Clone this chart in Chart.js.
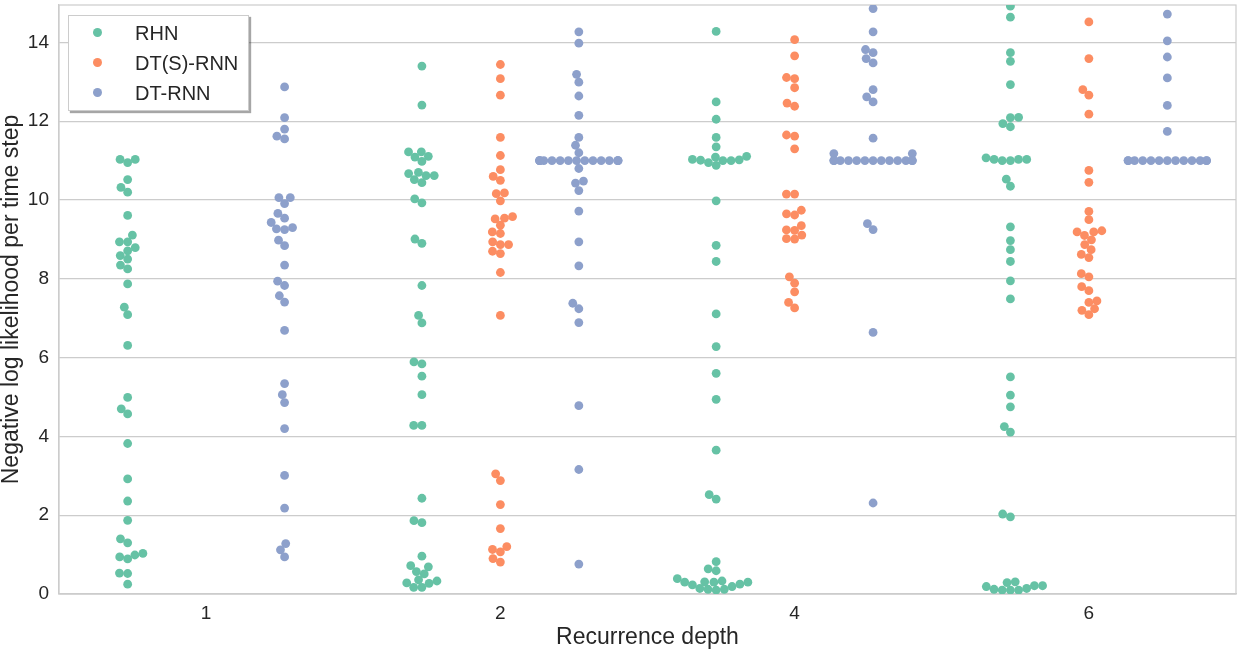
<!DOCTYPE html>
<html>
<head>
<meta charset="utf-8">
<script src="https://cdn.jsdelivr.net/npm/chart.js@4.4.1/dist/chart.umd.min.js"></script>
<style>
  html, body { margin: 0; padding: 0; background: #ffffff; }
  #wrap { position: relative; width: 1242px; height: 650px; }
  #legend {
    position: absolute; left: 68px; top: 15px; width: 181px; height: 96px;
    background: #ffffff; border: 1px solid #cccccc;
    box-shadow: 2px 2px 1px rgba(0,0,0,0.35);
    font-family: 'Liberation Sans', Arial, sans-serif; font-size: 20px; color: #262626;
    box-sizing: border-box;
  }
  .lg-row { position: absolute; left: 0; height: 24px; }
  .lg-dot { position: absolute; left: 24px; width: 9px; height: 9px; border-radius: 50%; }
  .lg-txt { position: absolute; left: 66px; white-space: nowrap; line-height: 24px; }
</style>
</head>
<body>
<div id="wrap">
  <canvas id="c" width="1242" height="650"></canvas>
  <div id="legend"></div>
</div>
<script>
// ---------------- data ----------------
const categories = ['1', '2', '4', '6'];
const seriesNames = ['RHN', 'DT(S)-RNN', 'DT-RNN'];
const seriesColors = ['#66c2a5', '#fc8d62', '#8da0cb'];
const yTickStep = 2;
const yMin = 0;
const yMax = 14.95;

const rhn_d1 = [11.03, 10.95, 11.03, 10.52, 10.32, 10.20, 9.61, 9.11, 8.94, 8.94, 8.79, 8.71, 8.59, 8.50, 8.35, 8.25, 7.87, 7.28, 7.09, 6.31, 4.99, 4.70, 4.57, 3.82, 2.92, 2.36, 1.87, 1.40, 1.30, 0.94, 0.89, 0.99, 1.03, 0.53, 0.52, 0.25];
const rhn_d2 = [13.40, 12.41, 11.22, 11.22, 11.09, 11.11, 10.98, 10.67, 10.70, 10.62, 10.62, 10.52, 10.44, 10.03, 9.93, 9.01, 8.90, 7.83, 7.07, 6.88, 5.89, 5.84, 5.53, 5.06, 4.28, 4.28, 2.43, 1.86, 1.81, 0.96, 0.72, 0.69, 0.57, 0.51, 0.36, 0.28, 0.27, 0.33, 0.17, 0.17];
const rhn_d4 = [14.28, 12.49, 12.05, 11.59, 11.35, 11.03, 11.01, 10.95, 11.09, 10.88, 11.00, 11.00, 11.02, 11.11, 9.98, 8.85, 8.44, 7.11, 6.28, 5.60, 4.94, 3.65, 2.52, 2.41, 0.82, 0.64, 0.59, 0.31, 0.23, 0.14, 0.30, 0.12, 0.30, 0.10, 0.30, 0.12, 0.39, 0.19, 0.25, 0.33];
const rhn_d6 = [14.92, 14.64, 13.74, 13.52, 12.93, 12.09, 12.10, 11.94, 11.86, 11.07, 11.03, 11.00, 11.00, 11.03, 11.03, 10.53, 10.35, 9.32, 8.97, 8.74, 8.44, 7.95, 7.49, 5.51, 5.05, 4.75, 4.25, 4.11, 2.03, 1.96, 0.19, 0.12, 0.10, 0.29, 0.10, 0.31, 0.10, 0.14, 0.21, 0.21];

const dts_d1 = [];
const dts_d2 = [13.44, 13.08, 12.66, 11.59, 11.13, 10.77, 10.60, 10.50, 10.16, 10.18, 9.98, 9.52, 9.54, 9.58, 9.36, 9.19, 9.15, 8.94, 8.87, 8.87, 8.70, 8.64, 8.16, 7.07, 3.05, 2.88, 2.27, 1.66, 1.13, 1.07, 1.20, 0.90, 0.81];
const dts_d4 = [14.07, 13.66, 13.11, 13.08, 12.85, 12.46, 12.38, 11.65, 11.62, 11.30, 10.15, 10.15, 9.65, 9.62, 9.74, 9.24, 9.23, 9.35, 9.02, 9.01, 9.11, 8.05, 7.89, 7.67, 7.40, 7.26];
const dts_d6 = [14.52, 13.59, 12.80, 12.66, 12.18, 10.75, 10.45, 9.71, 9.50, 9.19, 9.10, 9.19, 9.22, 8.99, 8.87, 8.74, 8.62, 8.54, 8.13, 8.05, 7.80, 7.70, 7.44, 7.40, 7.24, 7.20, 7.09];

const dt_d1 = [12.87, 12.09, 11.80, 11.62, 11.55, 10.06, 10.06, 9.91, 9.66, 9.54, 9.43, 9.27, 9.25, 9.30, 8.98, 8.84, 8.35, 7.94, 7.83, 7.57, 7.41, 6.69, 5.34, 5.06, 4.86, 4.20, 3.01, 2.18, 1.28, 1.12, 0.94];
const dt_d2 = [14.27, 13.98, 13.19, 12.99, 12.64, 12.15, 11.59, 11.39, 11.20, 11.0, 11.0, 11.0, 11.0, 11.0, 11.0, 11.0, 11.0, 11.0, 11.0, 11.0, 11.0, 11.0, 11.0, 11.0, 10.80, 10.48, 10.43, 10.24, 9.72, 8.94, 8.33, 7.38, 7.24, 6.89, 4.78, 3.16, 0.76];
const dt_d4 = [14.86, 14.27, 13.82, 13.74, 13.59, 13.48, 12.80, 12.62, 12.49, 11.57, 11.18, 11.18, 11.0, 11.0, 11.0, 11.0, 11.0, 11.0, 11.0, 11.0, 11.0, 11.0, 11.0, 11.0, 11.0, 9.40, 9.25, 6.64, 2.31];
const dt_d6 = [14.72, 14.04, 13.63, 13.10, 12.40, 11.74, 11.0, 11.0, 11.0, 11.0, 11.0, 11.0, 11.0, 11.0, 11.0, 11.0, 11.0, 11.0, 11.0];

const seriesData = [
  [rhn_d1, rhn_d2, rhn_d4, rhn_d6],
  [dts_d1, dts_d2, dts_d4, dts_d6],
  [dt_d1, dt_d2, dt_d4, dt_d6]
];

// ---------------- chart ----------------
const TEXT = '#262626';
const GRID = '#cccccc';
const FONT = "'Liberation Sans', Arial, sans-serif";
const nHue = seriesNames.length;
const hueWidth = 0.8 / nHue;
const hueOffset = i => (i - (nHue - 1) / 2) * hueWidth;

const datasets = seriesNames.map((name, s) => {
  const pts = [];
  seriesData[s].forEach((vals, c) => {
    vals.forEach(v => pts.push({ x: c + hueOffset(s), y: v, cat: c }));
  });
  return {
    label: name,
    data: pts,
    backgroundColor: seriesColors[s],
    borderWidth: 0,
    pointRadius: 4.4,
    pointHoverRadius: 4.4
  };
});

const frame = {
  id: 'frame',
  beforeDatasetsDraw(chart) {
    const a = chart.chartArea, ctx = chart.ctx;
    ctx.save();
    ctx.strokeStyle = GRID;
    ctx.lineWidth = 1.2;
    ctx.strokeRect(a.left, a.top, a.right - a.left, a.bottom - a.top);
    ctx.restore();
  }
};

const chart = new Chart(document.getElementById('c'), {
  type: 'scatter',
  data: { datasets },
  options: {
    responsive: false,
    animation: false,
    events: [],
    layout: { padding: { top: 5, right: 6, left: 0, bottom: 0 } },
    plugins: { legend: { display: false }, tooltip: { enabled: false } },
    scales: {
      x: {
        type: 'linear', min: -0.5, max: categories.length - 0.5,
        afterBuildTicks: s => { s.ticks = categories.map((c, i) => ({ value: i })); },
        afterFit: s => { s.height = 56; s.paddingLeft = 0; s.paddingRight = 0; },
        grid: { display: false, drawTicks: false },
        border: { display: true, color: GRID, width: 1.2 },
        ticks: {
          padding: 8, color: TEXT, autoSkip: false, maxRotation: 0,
          font: { family: FONT, size: 19 },
          callback: v => (categories[Math.round(v)] !== undefined) ? categories[Math.round(v)] : ''
        },
        title: { display: true, text: 'Recurrence depth', color: TEXT,
          font: { family: FONT, size: 23, lineHeight: 1 }, padding: { top: 0, bottom: 1 } }
      },
      y: {
        min: yMin, max: yMax,
        afterFit: s => { s.width = 59; s.paddingTop = 0; s.paddingBottom = 0; },
        grid: { color: GRID, lineWidth: 1.2, drawTicks: false },
        border: { display: true, color: GRID, width: 1.2 },
        ticks: { stepSize: yTickStep, includeBounds: false, padding: 10, color: TEXT,
          font: { family: FONT, size: 19 } },
        title: { display: true, text: 'Negative log likelihood per time step', color: TEXT,
          font: { family: FONT, size: 23, lineHeight: 1 }, padding: { top: 0, bottom: 0 } }
      }
    }
  },
  plugins: [frame]
});

// beeswarm placement (pixel space), like seaborn swarmplot
function beeswarm(pys, d, limit) {
  const order = pys.map((y, i) => i).sort((a, b) => pys[b] - pys[a]);
  const placed = [];
  const out = new Array(pys.length).fill(0);
  for (const i of order) {
    const y = pys[i];
    const nb = placed.filter(p => Math.abs(p.y - y) < d);
    const cand = [0];
    let leftFirst = true;
    for (const n of nb) {
      const dx = Math.sqrt(Math.max(d * d - (y - n.y) * (y - n.y), 0));
      if (leftFirst) cand.push(n.x - dx, n.x + dx); else cand.push(n.x + dx, n.x - dx);
      leftFirst = !leftFirst;
    }
    const sorted = cand.map((x, k) => ({ x, k })).sort((a, b) => (Math.abs(a.x) - Math.abs(b.x)) || (a.k - b.k));
    let chosen = sorted[sorted.length - 1].x;
    for (const c of sorted) {
      if (nb.every(n => (c.x - n.x) * (c.x - n.x) + (y - n.y) * (y - n.y) >= d * d - 0.01)) { chosen = c.x; break; }
    }
    placed.push({ x: chosen, y });
    out[i] = chosen;
  }
  return out.map(x => Math.max(-limit, Math.min(limit, x)));
}

(function layoutSwarm() {
  const xs = chart.scales.x, ys = chart.scales.y;
  const pxPerX = xs.getPixelForValue(1) - xs.getPixelForValue(0);
  const limitPx = (hueWidth / 2) * pxPerX;
  const spacing = 8.2;
  chart.data.datasets.forEach((ds, s) => {
    categories.forEach((cat, c) => {
      const pts = ds.data.filter(p => p.cat === c);
      if (!pts.length) return;
      const pys = pts.map(p => ys.getPixelForValue(p.y));
      const off = beeswarm(pys, spacing, limitPx);
      pts.forEach((p, k) => { p.x = c + hueOffset(s) + off[k] / pxPerX; });
    });
  });
  chart.update('none');
})();

// legend (HTML, real text)
const lg = document.getElementById('legend');
seriesNames.forEach((name, s) => {
  const row = document.createElement('div');
  row.className = 'lg-row';
  row.style.top = (5 + s * 30) + 'px';
  row.style.width = '100%';
  const dot = document.createElement('span');
  dot.className = 'lg-dot';
  dot.style.background = seriesColors[s];
  dot.style.top = '7px';
  const txt = document.createElement('span');
  txt.className = 'lg-txt';
  txt.textContent = name;
  row.appendChild(dot); row.appendChild(txt);
  lg.appendChild(row);
});
</script>
</body>
</html>
